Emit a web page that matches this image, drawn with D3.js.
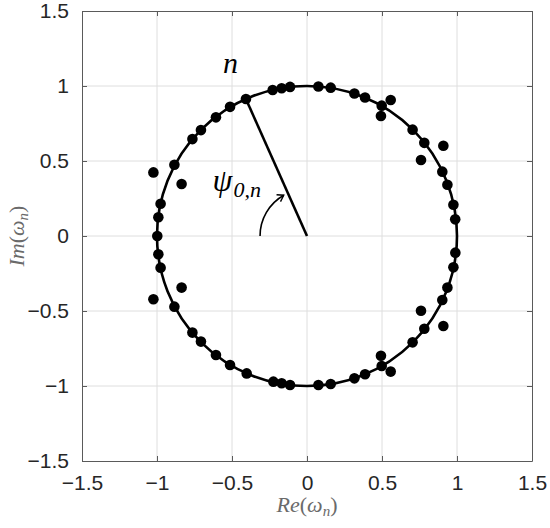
<!DOCTYPE html>
<html>
<head>
<meta charset="utf-8">
<script src="https://cdn.jsdelivr.net/npm/d3@7"></script>
<style>
  body { margin: 0; background: #fff; }
  .tick text { font-family: "Liberation Sans", Arial, sans-serif; font-size: 21px; fill: #262626; }
</style>
</head>
<body>
<script>
var width = 550, height = 528;
var margin = {top: 11, right: 18, bottom: 67, left: 82};

// tick values on both axes
var ticks = [-1.5, -1, -0.5, 0, 0.5, 1, 1.5];

// points on (or near) the unit circle
var pointsRe = [-0.998, -0.991, -0.976, -0.884, -0.764, -0.707, -0.607, -0.513, -0.407, -0.229, -0.169, -0.113,
                 0.076, 0.158, 0.316, 0.387, 0.498, 0.704, 0.782, 0.902, 0.936, 0.976, 0.988,
                -0.991, -0.976, -0.884, -0.764, -0.707, -0.607, -0.513, -0.402, -0.224, -0.169, -0.113,
                 0.076, 0.158, 0.316, 0.387, 0.498, 0.704, 0.782, 0.902, 0.936, 0.976, 0.989];
var pointsIm = [ 0.000,  0.125,  0.215,  0.475,  0.646,  0.706,  0.791,  0.861,  0.913,  0.973,  0.985,  0.994,
                 0.997, 0.989, 0.950, 0.923, 0.869, 0.709, 0.621, 0.429, 0.342, 0.208, 0.111,
                -0.122, -0.211, -0.471, -0.644, -0.704, -0.793, -0.860, -0.916, -0.971, -0.982, -0.993,
                -0.993, -0.987, -0.949, -0.922, -0.867, -0.709, -0.618, -0.427, -0.344, -0.209, -0.111];

// stray points off the circle
var offRe = [-1.024, -0.836, 0.558, 0.493, 0.909, 0.760, -1.024, -0.836, 0.558, 0.493, 0.909, 0.760];
var offIm = [ 0.424,  0.347, 0.907, 0.800, 0.602, 0.507, -0.422, -0.344, -0.904, -0.798, -0.600, -0.498];

// the marked point n and the angle arc
var nIndex = 8;
var arcRadius = 0.313;

var w = width - margin.left - margin.right,
    h = height - margin.top - margin.bottom;

var svg = d3.select("body")
            .append("svg")
            .attr("width", width)
            .attr("height", height)
            .append("g")
            .attr("transform", "translate(" + margin.left + "," + margin.top + ")");

var x = d3.scaleLinear().domain([-1.5, 1.5]).range([0, w]);
var y = d3.scaleLinear().domain([-1.5, 1.5]).range([h, 0]);

var fmt = d3.format("");
var minus = d => fmt(d).replace("-", "\u2212");

// grid
svg.append("g").selectAll("line.gx")
   .data(ticks.slice(1, -1)).enter()
   .append("line")
   .attr("x1", d => x(d)).attr("x2", d => x(d))
   .attr("y1", 0).attr("y2", h)
   .attr("stroke", "#dedede").attr("stroke-width", 1);

svg.append("g").selectAll("line.gy")
   .data(ticks.slice(1, -1)).enter()
   .append("line")
   .attr("y1", d => y(d)).attr("y2", d => y(d))
   .attr("x1", 0).attr("x2", w)
   .attr("stroke", "#dedede").attr("stroke-width", 1);

// axes, ticks pointing inward on all four sides
var xAxis = d3.axisBottom(x).tickValues(ticks).tickFormat(minus).tickSizeInner(-5).tickSizeOuter(0).tickPadding(14);
var yAxis = d3.axisLeft(y).tickValues(ticks).tickFormat(minus).tickSizeInner(-5).tickSizeOuter(0).tickPadding(13);

svg.append("g").attr("class", "x axis")
   .attr("transform", "translate(0," + h + ")")
   .call(xAxis);
svg.append("g").attr("class", "y axis").call(yAxis);
svg.append("g").attr("transform", "translate(0,0)")
   .call(d3.axisTop(x).tickValues(ticks).tickFormat("").tickSizeInner(-5).tickSizeOuter(0));
svg.append("g").attr("transform", "translate(" + w + ",0)")
   .call(d3.axisRight(y).tickValues(ticks).tickFormat("").tickSizeInner(-5).tickSizeOuter(0));

svg.selectAll(".domain").attr("stroke", "#5a5a5a");
svg.selectAll(".tick line").attr("stroke", "#5a5a5a");

// unit circle
svg.append("circle")
   .attr("cx", x(0)).attr("cy", y(0))
   .attr("r", x(1) - x(0))
   .attr("fill", "none")
   .attr("stroke", "#000")
   .attr("stroke-width", 2.6);

// radius to point n
svg.append("line")
   .attr("x1", x(0)).attr("y1", y(0))
   .attr("x2", x(pointsRe[nIndex])).attr("y2", y(pointsIm[nIndex]))
   .attr("stroke", "#000").attr("stroke-width", 2.6);

// points
svg.append("g").selectAll("circle")
   .data(d3.range(pointsRe.length)).enter()
   .append("circle")
   .attr("cx", i => x(pointsRe[i]))
   .attr("cy", i => y(pointsIm[i]))
   .attr("r", 5.3)
   .attr("fill", "#000");

svg.append("g").selectAll("circle")
   .data(d3.range(offRe.length)).enter()
   .append("circle")
   .attr("cx", i => x(offRe[i]))
   .attr("cy", i => y(offIm[i]))
   .attr("r", 5.3)
   .attr("fill", "#000");

// angle arc with arrow
svg.append("defs").append("marker")
   .attr("id", "arrow")
   .attr("viewBox", "-8 -5 10 10")
   .attr("refX", 0).attr("refY", 0)
   .attr("markerWidth", 10).attr("markerHeight", 10)
   .attr("markerUnits", "userSpaceOnUse")
   .attr("orient", "auto")
   .append("path")
   .attr("d", "M-6,-4L0,0L-6,4")
   .attr("fill", "none").attr("stroke", "#000").attr("stroke-width", 1.4);

var rpx = x(arcRadius) - x(0);
var p = d3.path();
p.arc(x(0), y(0), rpx, -Math.PI, -Math.PI * 0.665, false);
svg.append("path")
   .attr("d", p.toString())
   .attr("fill", "none")
   .attr("stroke", "#000")
   .attr("stroke-width", 1.6)
   .attr("marker-end", "url(#arrow)");

// annotations
svg.append("text")
   .attr("x", x(-0.56)).attr("y", y(1.09))
   .attr("font-family", "Liberation Serif")
   .attr("font-style", "italic")
   .attr("font-size", 30)
   .attr("fill", "#000")
   .text("n");

var psi = svg.append("text")
   .attr("x", x(-0.63)).attr("y", y(0.30))
   .attr("font-family", "Liberation Serif")
   .attr("font-style", "italic")
   .attr("font-size", 32)
   .attr("fill", "#000");
psi.append("tspan").text("\u03C8");
psi.append("tspan").attr("font-size", 22).attr("dy", 6).attr("dx", 1).text("0,n");

// axis labels
var xl = svg.append("text")
   .attr("x", x(0)).attr("y", h + 51)
   .attr("text-anchor", "middle")
   .attr("font-family", "Liberation Serif")
   .attr("font-size", 22)
   .attr("fill", "#6a6a6a");
xl.append("tspan").attr("font-style", "italic").text("Re");
xl.append("tspan").text("(");
xl.append("tspan").attr("font-style", "italic").text("\u03C9");
xl.append("tspan").attr("font-style", "italic").attr("font-size", 15).attr("dy", 4).text("n");
xl.append("tspan").attr("dy", -4).text(")");

var yl = svg.append("text")
   .attr("transform", "translate(" + (-58) + "," + y(0) + ") rotate(-90)")
   .attr("text-anchor", "middle")
   .attr("font-family", "Liberation Serif")
   .attr("font-size", 22)
   .attr("fill", "#6a6a6a");
yl.append("tspan").attr("font-style", "italic").text("Im");
yl.append("tspan").text("(");
yl.append("tspan").attr("font-style", "italic").text("\u03C9");
yl.append("tspan").attr("font-style", "italic").attr("font-size", 15).attr("dy", 4).text("n");
yl.append("tspan").attr("dy", -4).text(")");
</script>
</body>
</html>
